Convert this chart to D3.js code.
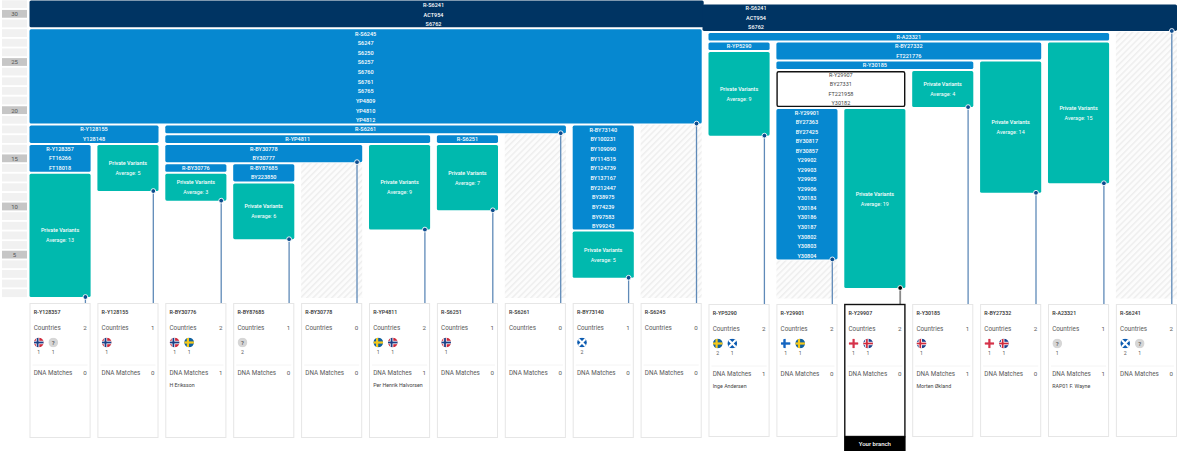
<!DOCTYPE html>
<html><head><meta charset="utf-8">
<style>html,body{margin:0;padding:0;background:#fff;overflow:hidden}svg{display:block;font-family:Roboto,sans-serif}</style>
<script src="https://cdn.jsdelivr.net/npm/d3@7"></script></head>
<body><svg id="c" width="1180" height="452"></svg>
<script>
// ---------- data ----------
const branches = ["R-Y128357","R-Y128155","R-BY30776","R-BY87685","R-BY30778","R-YP4811","R-S6251","R-S6261","R-BY73140","R-S6245","R-YP5290","R-Y29901","R-Y29907","R-Y30185","R-BY27332","R-A23321","R-S6241"];
const privateAverages = [13,5,3,6,null,9,7,null,5,null,9,null,19,4,14,15,null];
const countryCounts = [2,1,2,1,0,2,1,0,1,0,2,2,2,1,2,1,2];
const countryFlags = [["NO","?"],["NO"],["NO","SE"],["?"],[],["SE","NO"],["NO"],[],["SCT"],[],["SE","SCT"],["FI","SE"],["EN","IS"],["IS"],["EN","IS"],["?"],["SCT","?"]];
const flagCounts = [[1,1],[1],[1,1],[2],[],[1,1],[1],[],[2],[],[2,1],[1,1],[1,1],[1],[1,1],[1],[2,1]];
const dnaCounts = [0,0,1,0,0,1,0,0,0,0,1,0,0,1,0,1,0];
const dnaNames = ["","","H Eriksson","","","Per Henrik Halvorsen","","","","","Inge Andersen","","","Morten Økland","","RAP01 F. Wayne",""];
const yourBranch = "R-Y29907";
const tickLabels = [5,10,15,20,25,30];
const rowLevels = d3.range(1,32);
// blocks: first branch, last branch, variant names (stacked from the root down)
const blocks = [
 ["R-Y128357","R-S6245",["R-S6241","ACT954","S6762"],"root"],
 ["R-YP5290","R-S6241",["R-S6241","ACT954","S6762"],"root"],
 ["R-Y128357","R-S6245",["R-S6245","S6247","S6250","S6257","S6760","S6761","S6765","YP4809","YP4810","YP4812"]],
 ["R-Y128357","R-Y128155",["R-Y128155","Y128148"]],
 ["R-Y128357","R-Y128357",["R-Y128357","FT16266","FT18018"]],
 ["R-BY30776","R-S6261",["R-S6261"]],
 ["R-BY30776","R-YP4811",["R-YP4811"]],
 ["R-BY30776","R-BY30778",["R-BY30778","BY30777"]],
 ["R-BY30776","R-BY30776",["R-BY30776"]],
 ["R-BY87685","R-BY87685",["R-BY87685","BY223850"]],
 ["R-S6251","R-S6251",["R-S6251"]],
 ["R-BY73140","R-BY73140",["R-BY73140","BY100231","BY109090","BY114515","BY124739","BY137167","BY212447","BY38975","BY74239","BY97583","BY99243"]],
 ["R-YP5290","R-A23321",["R-A23321"]],
 ["R-YP5290","R-YP5290",["R-YP5290"]],
 ["R-Y29901","R-BY27332",["R-BY27332","FT221776"]],
 ["R-Y29901","R-Y30185",["R-Y30185"]],
 ["R-Y29901","R-Y29907",["R-Y29907","BY27331","FT221958","Y30182"],"mine"],
 ["R-Y29901","R-Y29901",["R-Y29901","BY27363","BY27425","BY30817","BY30857","Y29902","Y29903","Y29905","Y29906","Y30183","Y30184","Y30186","Y30187","Y30802","Y30803","Y30804"]]
];
// ---------- scales ----------
const svg = d3.select("#c");
const x = d3.scaleBand().domain(branches).range([29.5,1177]).paddingInner(0.1);
const yLeft = d3.scaleLinear().domain([0,31]).range([298,-0.6]);
const yRight = d3.scaleLinear().domain([0,31]).range([298.5,3.4]);
const yOf = b => branches.indexOf(b) <= 9 ? yLeft : yRight;
const bw = x.bandwidth();
const C = {dark:"#003463",blue:"#0688d0",teal:"#00b9ae",hatch:"#eeeeee",line:"#5f8ab8",dot:"#0c4c8e"};
const defs = svg.append("defs");
const pat = defs.append("pattern").attr("id","hatch").attr("width",4.4).attr("height",4.4).attr("patternUnits","userSpaceOnUse").attr("patternTransform","rotate(45)");
pat.append("rect").attr("width",4.4).attr("height",4.4).attr("fill","#fcfcfc");
pat.append("rect").attr("width",1.5).attr("height",4.4).attr("fill",C.hatch);
defs.append("clipPath").attr("id","flagClip").append("circle").attr("r",4.8);
// ---------- axis ----------
const yTick = d3.scaleLinear().domain([0,31]).range([yLeft(0)+4.8, yLeft(31)+4.8]);
const rows = svg.append("g");
rows.selectAll("rect").data(rowLevels).join("rect")
 .attr("x",2).attr("width",25).attr("height",7.8)
 .attr("y",d=>yTick(d)-3.9)
 .attr("fill",d=>tickLabels.includes(d)?"#c6c6c6":"#f1f1f1");
const axis = svg.append("g").attr("transform","translate(14.5,0)").call(d3.axisLeft(yTick).tickValues(tickLabels).tickSize(0));
axis.select(".domain").remove();
axis.selectAll("text").attr("x",0).attr("text-anchor","middle").attr("font-family","Roboto").attr("font-size",6).attr("fill","#555");
// ---------- stacked blocks ----------
const level = {}; branches.forEach(b=>level[b]=31);
const gHatch = svg.append("g"), gLines = svg.append("g"), gBlocks = svg.append("g"), gDots = svg.append("g");
blocks.forEach(([a,b,names,kind])=>{
  const top = level[a], y = yOf(a), n = names.length;
  const ia = branches.indexOf(a), ib = branches.indexOf(b);
  let xa = x(a), xb = x(b)+bw;
  let cx = (xa+xb)/2;
  if(kind==="root"){
    if(ia===0){ xb += 2; cx = (xa + x("R-Y29907")-x.step()+bw)/2; }
    else { xa -= 6; cx = (x("R-YP4811")-x.step()/2+xb)/2; }
  }
  const y0 = y(top)+1, y1 = y(top-n)-1;
  const textShift = (ia<=9 && kind==="root") ? 0.9 : (ia<=9 && n>=10 ? .5 : 0);
  const g = gBlocks.append("g");
  if(kind==="mine"){
    g.append("rect").attr("x",xa+.7).attr("y",y0+.7).attr("width",xb-xa-1.4).attr("height",y1-y0-1.4).attr("rx",1.5).attr("fill","#fff").attr("stroke","#111").attr("stroke-width",1.4);
  } else {
    g.append("rect").attr("x",xa).attr("y",y0).attr("width",xb-xa).attr("height",y1-y0).attr("rx",1.6).attr("fill",kind==="root"?C.dark:C.blue);
  }
  g.selectAll("text").data(names).join("text")
   .attr("x",cx).attr("y",(d,i)=>(y(top-i)+y(top-i-1))/2+1.9+textShift)
   .attr("text-anchor","middle").attr("font-size",5.5).attr("font-weight",kind==="mine"?400:500)
   .attr("fill",kind==="mine"?"#444":"#fff").text(d=>d);
  d3.range(ia,ib+1).forEach(i=>level[branches[i]]=top-n);
});
// ---------- per-branch private block / hatch + connector + card ----------
const cards = svg.append("g");
function flag(g,code){
  const c = g.append("g").attr("clip-path","url(#flagClip)");
  const bg = (f)=>c.append("rect").attr("x",-5).attr("y",-5).attr("width",10).attr("height",10).attr("fill",f);
  const cross=(f,t,cx=-1.2)=>{c.append("rect").attr("x",cx-t/2).attr("y",-5).attr("width",t).attr("height",10).attr("fill",f);
    c.append("rect").attr("x",-5).attr("y",-t/2).attr("width",10).attr("height",t).attr("fill",f);};
  if(code==="NO"){bg("#cf2a3c");cross("#fff",3.4);cross("#1d3f85",1.8);}
  else if(code==="IS"){bg("#1c3f8a");cross("#fff",3.4);cross("#cf2a3c",1.7);}
  else if(code==="SE"){bg("#10619f");cross("#f4c81c",2.2);}
  else if(code==="FI"){bg("#fff");cross("#1565c0",2.4);}
  else if(code==="EN"){bg("#fff");cross("#d5334a",2.2,0);}
  else if(code==="SCT"){bg("#0c5bb0");
    c.append("path").attr("d","M-5-5L5 5M-5 5L5-5").attr("stroke","#fff").attr("stroke-width",2.1);}
  else {bg("#d6d6d6");
    g.append("text").attr("y",2).attr("text-anchor","middle").attr("font-size",6).attr("font-weight",700).attr("fill","#666").text("?");}
}
branches.forEach((b,i)=>{
  const y = yOf(b), xa = x(b), xb = xa+bw, right = i>9;
  const cardTop = right?304:303, cardBot = right?437:438;
  const mine = b===yourBranch;
  let dotY;
  if(privateAverages[i]!=null){
    const top = level[b], bot = top-privateAverages[i];
    const g = gBlocks.append("g");
    const y0=y(top)+1, y1=y(bot)-1;
    g.append("rect").attr("x",xa).attr("y",y0).attr("width",bw).attr("height",y1-y0).attr("rx",1.6).attr("fill",C.teal);
    const my = (y0+y1)/2;
    g.append("text").attr("x",xa+bw/2).attr("y",my-3).attr("text-anchor","middle").attr("font-size",5.4).attr("font-weight",500).attr("fill","#fff").text("Private Variants");
    g.append("text").attr("x",xa+bw/2).attr("y",my+7).attr("text-anchor","middle").attr("font-size",5.4).attr("font-weight",400).attr("fill","#fff").text("Average: "+privateAverages[i]);
    dotY = y1;
  } else {
    dotY = y(level[b])-1;
    gHatch.append("rect").attr("x",xa).attr("y",y(level[b])).attr("width",bw).attr("height",y(0)-y(level[b])).attr("fill","url(#hatch)");
  }
  const lx = xb-5.2;
  gLines.append("line").attr("x1",lx).attr("x2",lx).attr("y1",dotY).attr("y2",cardTop)
    .attr("stroke",mine?"#8a8a8a":C.line).attr("stroke-width",mine?1.8:1.3);
  gDots.append("circle").attr("cx",lx).attr("cy",dotY).attr("r",2.4).attr("fill",mine?"#000":C.dot).attr("stroke","#fff").attr("stroke-width",.9);
  // card
  const g = cards.append("g").attr("transform",`translate(${xa},${cardTop})`);
  const H = cardBot-cardTop;
  g.append("rect").attr("x",.5).attr("y",.5).attr("width",bw-1).attr("height",H-1).attr("fill","#fff")
    .attr("stroke",mine?"#111":"#e6e6e6").attr("stroke-width",mine?1.4:1);
  const tx=(xp,yp,t,o={})=>g.append("text").attr("x",xp).attr("y",yp).attr("font-size",o.s||6.3).attr("font-weight",o.w||400).attr("fill",o.f||"#5a5a5a").attr("text-anchor",o.a||"start").text(t);
  tx(4.2,11,b,{s:5.3,w:600,f:"#3c3c3c"});
  tx(4.2,27.2,"Countries");
  tx(bw-4,27.2,countryCounts[i],{a:"end",s:6.2});
  countryFlags[i].forEach((f,j)=>{
    const fg = g.append("g").attr("transform",`translate(${9.3+j*14.5},${39.5})`);
    flag(fg,f);
    tx(9.3+j*14.5,50.5,flagCounts[i][j],{a:"middle",s:5.2});
  });
  g.append("line").attr("x1",3).attr("x2",bw-3).attr("y1",62).attr("y2",62).attr("stroke","#f1f1f1").attr("stroke-width",.8);
  tx(4.2,72.3,"DNA Matches");
  tx(bw-4,72.3,dnaCounts[i],{a:"end",s:6.2});
  if(dnaNames[i]) tx(4.2,84,dnaNames[i],{s:5.3,f:"#444"});
  if(mine){
    svg.append("rect").attr("x",xa-.2).attr("y",cardBot-.5).attr("width",bw+.4).attr("height",14.5).attr("fill","#000");
    svg.append("text").attr("x",xa+bw/2).attr("y",cardBot+9.2).attr("text-anchor","middle").attr("font-size",6).attr("font-weight",500).attr("fill","#fff").text("Your branch");
  }
});
</script></body></html>
